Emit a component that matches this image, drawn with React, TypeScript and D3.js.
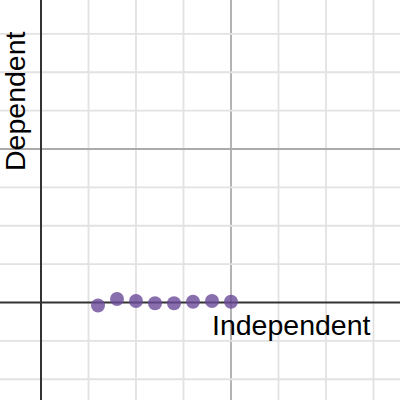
import { useRef, useEffect } from 'react';
import * as d3 from 'd3';

// scatter points
const xValues = [1.2, 1.6, 2.0, 2.4, 2.8, 3.2, 3.6, 4.0];
const yValues = [-0.08, 0.09, 0.04, -0.02, -0.02, 0.02, 0.04, 0.02];

// grid lines (every unit, darker every 4)
const xGrid = [1, 2, 3, 4, 5, 6, 7];
const yGrid = [-2, -1, 1, 2, 3, 4, 5, 6, 7];
const majorEvery = 4;

const xLabel = 'Independent';
const yLabel = 'Dependent';

const W = 400;
const H = 400;

export default function App() {
  const svgRef = useRef<SVGSVGElement>(null);

  useEffect(() => {
    const svg = d3.select(svgRef.current);
    svg.selectAll('*').remove();

    // origin at (41, 302.5); 47.5px per x unit, 38.35px per y unit
    const x = d3.scaleLinear().domain([0, 4]).range([41, 231]);
    const y = d3.scaleLinear().domain([0, 4]).range([302.5, 149]);

    svg.append('rect').attr('width', W).attr('height', H).attr('fill', '#fff');

    const grid = svg.append('g');
    grid.selectAll('line.gx')
      .data(xGrid)
      .join('line')
      .attr('x1', (d) => x(d)).attr('x2', (d) => x(d))
      .attr('y1', 0).attr('y2', H)
      .attr('stroke', (d) => (d % majorEvery === 0 ? '#ababab' : '#e2e2e2'))
      .attr('stroke-width', 1.8);

    grid.selectAll('line.gy')
      .data(yGrid)
      .join('line')
      .attr('y1', (d) => y(d)).attr('y2', (d) => y(d))
      .attr('x1', 0).attr('x2', W)
      .attr('stroke', (d) => (d % majorEvery === 0 ? '#ababab' : '#e2e2e2'))
      .attr('stroke-width', 1.8);

    // axes
    svg.append('line')
      .attr('x1', 0).attr('x2', W)
      .attr('y1', y(0)).attr('y2', y(0))
      .attr('stroke', '#333').attr('stroke-width', 2);
    svg.append('line')
      .attr('x1', x(0)).attr('x2', x(0))
      .attr('y1', 0).attr('y2', H)
      .attr('stroke', '#333').attr('stroke-width', 2);

    // points
    svg.append('g')
      .selectAll('circle')
      .data(xValues.map((v, i) => [v, yValues[i]]))
      .join('circle')
      .attr('cx', (d) => x(d[0]))
      .attr('cy', (d) => y(d[1]))
      .attr('r', 7)
      .attr('fill', '#6b4a9a')
      .attr('fill-opacity', 0.8);

    // axis labels
    svg.append('text')
      .attr('x', 212).attr('y', 335)
      .attr('font-family', '"Liberation Sans", Arial, sans-serif')
      .attr('font-size', 28.5)
      .attr('fill', '#000')
      .text(xLabel);

    svg.append('text')
      .attr('transform', 'translate(25,171) rotate(-90)')
      .attr('font-family', '"Liberation Sans", Arial, sans-serif')
      .attr('font-size', 28.5)
      .attr('fill', '#000')
      .text(yLabel);
  }, []);

  return (
    <div style={{ position: 'fixed', left: 0, top: 0 }}>
      <svg ref={svgRef} width={W} height={H} style={{ display: 'block' }} />
    </div>
  );
}
